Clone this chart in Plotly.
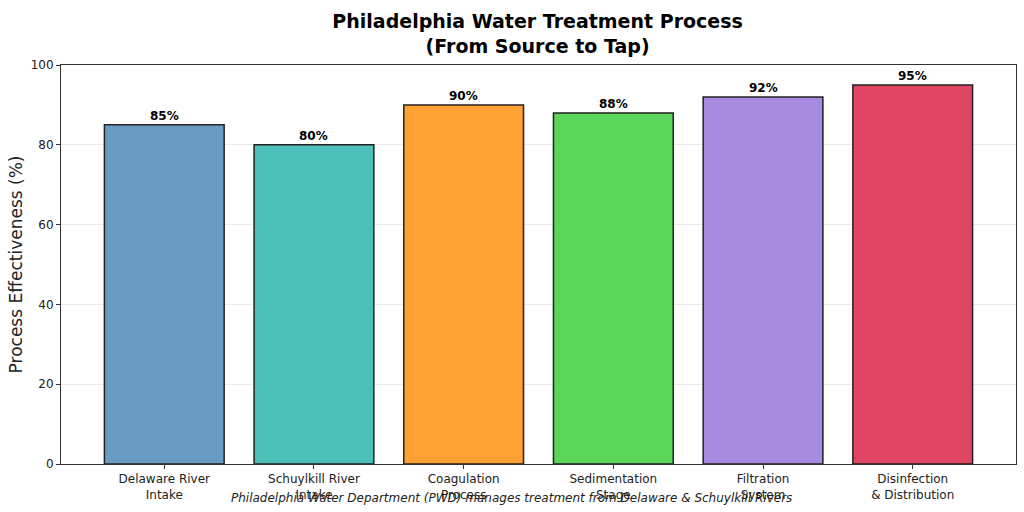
import plotly.graph_objects as go

categories = ["Delaware River<br>Intake", "Schuylkill River<br>Intake", "Coagulation<br>Process",
              "Sedimentation<br>Stage", "Filtration<br>System", "Disinfection<br>& Distribution"]
effectiveness = [85, 80, 90, 88, 92, 95]
colors = ["#6A9BC3", "#4DC0B9", "#FFA033", "#5BD65B", "#A78BE0", "#E04563"]
y_ticks = [0, 20, 40, 60, 80, 100]

x_idx = list(range(len(categories)))

fig = go.Figure()
fig.add_trace(go.Bar(
    x=x_idx, y=effectiveness, width=0.8,
    marker=dict(color=colors, line=dict(color="#222222", width=1.5)),
    hoverinfo="skip",
))

for xi, v in zip(x_idx, effectiveness):
    fig.add_annotation(x=xi, y=v, text=f"<b>{v}%</b>", showarrow=False,
                       yanchor="bottom", yshift=0,
                       font=dict(family="DejaVu Sans", size=12, color="black"))

fig.add_annotation(xref="paper", yref="paper", x=0.472, y=-0.085,
                   text="<i>Philadelphia Water Department (PWD) manages treatment from Delaware & Schuylkill Rivers</i>",
                   showarrow=False, xanchor="center", yanchor="middle",
                   font=dict(family="DejaVu Sans", size=12, color="#222222"))

fig.update_layout(
    width=1024, height=512,
    margin=dict(l=61, r=8, t=65, b=48),
    paper_bgcolor="white", plot_bgcolor="white",
    showlegend=False,
    title=dict(text="<b>Philadelphia Water Treatment Process<br>(From Source to Tap)</b>",
               x=0.525, xanchor="center", y=0.945, yanchor="middle",
               font=dict(family="DejaVu Sans", size=19, color="black")),
    font=dict(family="DejaVu Sans", size=12, color="#222222"),
    xaxis=dict(range=[-0.69, 5.69], tickmode="array", tickvals=x_idx, ticktext=categories,
               showline=True, linecolor="#333333", linewidth=1, mirror=True,
               ticks="outside", ticklen=4, tickcolor="#333333", showgrid=False,
               tickfont=dict(family="DejaVu Sans", size=12, color="#222222")),
    yaxis=dict(range=[0, 100], tickmode="array", tickvals=y_ticks,
               showline=True, linecolor="#333333", linewidth=1, mirror=True,
               ticks="outside", ticklen=4, tickcolor="#333333",
               showgrid=True, gridcolor="rgba(0,0,0,0.08)", gridwidth=1, zeroline=False,
               title=dict(text="Process Effectiveness (%)", standoff=3,
                          font=dict(family="DejaVu Sans", size=17, color="#222222")),
               tickfont=dict(family="DejaVu Sans", size=12, color="#222222")),
)

fig.write_html("out.html")
